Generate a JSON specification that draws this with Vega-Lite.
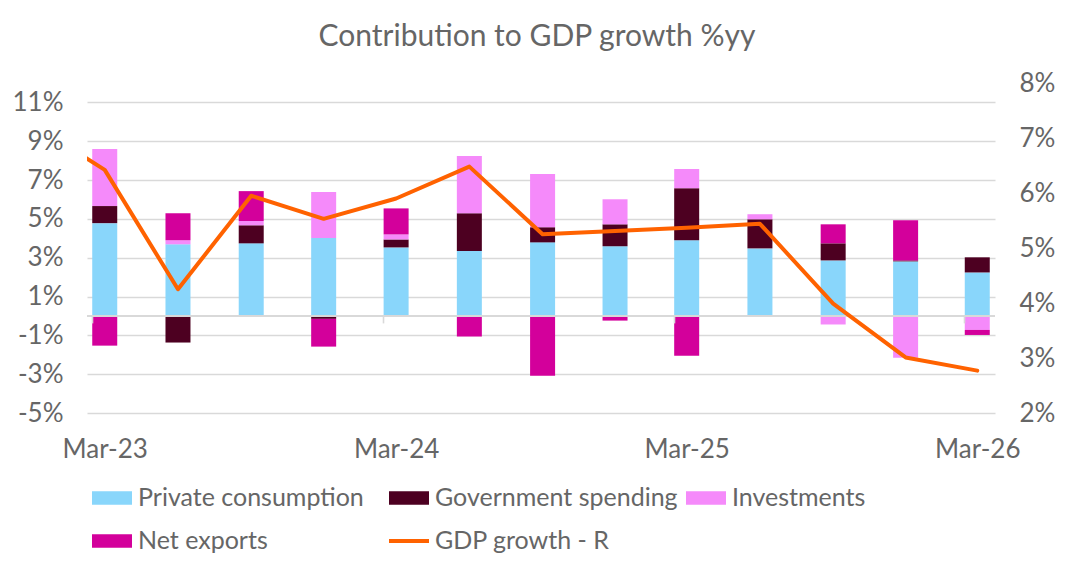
{
  "$schema": "https://vega.github.io/schema/vega-lite/v6.json",
  "width": 908,
  "height": 330,
  "autosize": {"type": "none"},
  "padding": {"left": 87, "top": 83, "right": 73, "bottom": 159},
  "background": "white",
  "title": {"text": "Contribution to GDP growth %yy", "font": "Lato", "fontSize": 30, "fontWeight": "normal", "color": "#666666", "anchor": "middle", "dx": -4, "offset": 18},
  "config": {"view": {"stroke": null}, "font": "Lato"},
  "datasets": {
    "stackorder": [
      {"series": "Private consumption", "rank": 1},
      {"series": "Government spending", "rank": 2},
      {"series": "Investments", "rank": 3},
      {"series": "Net exports", "rank": 4}
    ],
    "contrib": [
      {"date": "2023-03-01", "series": "Private consumption", "value": 4.78},
      {"date": "2023-03-01", "series": "Government spending", "value": 0.88},
      {"date": "2023-03-01", "series": "Investments", "value": 2.94},
      {"date": "2023-03-01", "series": "Net exports", "value": -1.53},
      {"date": "2023-06-01", "series": "Private consumption", "value": 3.69},
      {"date": "2023-06-01", "series": "Government spending", "value": -1.37},
      {"date": "2023-06-01", "series": "Investments", "value": 0.21},
      {"date": "2023-06-01", "series": "Net exports", "value": 1.39},
      {"date": "2023-09-01", "series": "Private consumption", "value": 3.74},
      {"date": "2023-09-01", "series": "Government spending", "value": 0.93},
      {"date": "2023-09-01", "series": "Investments", "value": 0.22},
      {"date": "2023-09-01", "series": "Net exports", "value": 1.54},
      {"date": "2023-12-01", "series": "Private consumption", "value": 4.02},
      {"date": "2023-12-01", "series": "Government spending", "value": -0.15},
      {"date": "2023-12-01", "series": "Investments", "value": 2.36},
      {"date": "2023-12-01", "series": "Net exports", "value": -1.43},
      {"date": "2024-03-01", "series": "Private consumption", "value": 3.53},
      {"date": "2024-03-01", "series": "Government spending", "value": 0.41},
      {"date": "2024-03-01", "series": "Investments", "value": 0.26},
      {"date": "2024-03-01", "series": "Net exports", "value": 1.34},
      {"date": "2024-06-01", "series": "Private consumption", "value": 3.35},
      {"date": "2024-06-01", "series": "Government spending", "value": 1.94},
      {"date": "2024-06-01", "series": "Investments", "value": 2.95},
      {"date": "2024-06-01", "series": "Net exports", "value": -1.06},
      {"date": "2024-09-01", "series": "Private consumption", "value": 3.79},
      {"date": "2024-09-01", "series": "Government spending", "value": 0.78},
      {"date": "2024-09-01", "series": "Investments", "value": 2.74},
      {"date": "2024-09-01", "series": "Net exports", "value": -3.08},
      {"date": "2024-12-01", "series": "Private consumption", "value": 3.59},
      {"date": "2024-12-01", "series": "Government spending", "value": 1.13},
      {"date": "2024-12-01", "series": "Investments", "value": 1.29},
      {"date": "2024-12-01", "series": "Net exports", "value": -0.24},
      {"date": "2025-03-01", "series": "Private consumption", "value": 3.9},
      {"date": "2025-03-01", "series": "Government spending", "value": 2.68},
      {"date": "2025-03-01", "series": "Investments", "value": 0.99},
      {"date": "2025-03-01", "series": "Net exports", "value": -2.05},
      {"date": "2025-06-01", "series": "Private consumption", "value": 3.48},
      {"date": "2025-06-01", "series": "Government spending", "value": 1.5},
      {"date": "2025-06-01", "series": "Investments", "value": 0.26},
      {"date": "2025-06-01", "series": "Net exports", "value": 0.0},
      {"date": "2025-09-01", "series": "Private consumption", "value": 2.86},
      {"date": "2025-09-01", "series": "Government spending", "value": 0.88},
      {"date": "2025-09-01", "series": "Investments", "value": -0.44},
      {"date": "2025-09-01", "series": "Net exports", "value": 0.98},
      {"date": "2025-12-01", "series": "Private consumption", "value": 2.81},
      {"date": "2025-12-01", "series": "Government spending", "value": 0.05},
      {"date": "2025-12-01", "series": "Investments", "value": -2.15},
      {"date": "2025-12-01", "series": "Net exports", "value": 2.07},
      {"date": "2026-03-01", "series": "Private consumption", "value": 2.24},
      {"date": "2026-03-01", "series": "Government spending", "value": 0.78},
      {"date": "2026-03-01", "series": "Investments", "value": -0.72},
      {"date": "2026-03-01", "series": "Net exports", "value": -0.26}
    ],
    "gdp": [
      {"date": "2022-12-01", "series": "GDP growth - R", "value": 7.24},
      {"date": "2023-03-01", "series": "GDP growth - R", "value": 6.42},
      {"date": "2023-06-01", "series": "GDP growth - R", "value": 4.25},
      {"date": "2023-09-01", "series": "GDP growth - R", "value": 5.95},
      {"date": "2023-12-01", "series": "GDP growth - R", "value": 5.53},
      {"date": "2024-03-01", "series": "GDP growth - R", "value": 5.9},
      {"date": "2024-06-01", "series": "GDP growth - R", "value": 6.48},
      {"date": "2024-09-01", "series": "GDP growth - R", "value": 5.25},
      {"date": "2024-12-01", "series": "GDP growth - R", "value": 5.31},
      {"date": "2025-03-01", "series": "GDP growth - R", "value": 5.37},
      {"date": "2025-06-01", "series": "GDP growth - R", "value": 5.44},
      {"date": "2025-09-01", "series": "GDP growth - R", "value": 3.99},
      {"date": "2025-12-01", "series": "GDP growth - R", "value": 3.01},
      {"date": "2026-03-01", "series": "GDP growth - R", "value": 2.77}
    ]
  },
  "layer": [
    {
      "data": {"name": "contrib"},
      "transform": [
        {"lookup": "series", "from": {"data": {"name": "stackorder"}, "key": "series", "fields": ["rank"]}}
      ],
      "layer": [
        {
          "mark": {"type": "bar", "width": 25},
          "encoding": {
            "x": {
              "field": "date", "type": "temporal",
              "scale": {"type": "utc", "domain": [{"year": 2023, "month": 2, "date": 13, "utc": true}, {"year": 2026, "month": 3, "date": 17, "utc": true}]},
              "axis": {
                "values": [{"year": 2023, "month": 3, "date": 1, "utc": true}, {"year": 2024, "month": 3, "date": 1, "utc": true}, {"year": 2025, "month": 3, "date": 1, "utc": true}, {"year": 2026, "month": 3, "date": 1, "utc": true}],
                "format": "%b-%y", "title": null, "grid": false, "domain": false, "ticks": false,
                "labelFlush": false, "labelPadding": 44, "labelBaseline": "alphabetic",
                "labelFontSize": 26, "labelColor": "#666666", "labelFont": "Lato"
              }
            },
            "y": {
              "field": "value", "type": "quantitative", "stack": "zero",
              "scale": {"domain": [-5, 12], "nice": false, "zero": false},
              "axis": {
                "values": [-5, -3, -1, 1, 3, 5, 7, 9, 11], "labelExpr": "datum.value + '%'",
                "title": null, "grid": true, "gridColor": "#d9d9d9", "gridWidth": 1.6,
                "domain": false, "ticks": false, "labelPadding": 24,
                "labelFontSize": 26, "labelColor": "#666666", "labelFont": "Lato"
              }
            },
            "order": {"field": "rank", "type": "quantitative", "sort": "ascending"},
            "color": {
              "field": "series", "type": "nominal",
              "scale": {
                "domain": ["Private consumption", "Government spending", "Investments", "Net exports", "GDP growth - R"],
                "range": ["#89D6FB", "#4D0021", "#F58AFA", "#D3009B", "#FF6200"]
              },
              "legend": {
                "title": null, "orient": "none", "legendX": 5, "legendY": 395,
                "direction": "horizontal", "columns": 3, "gridAlign": "all",
                "columnPadding": 8, "rowPadding": 10, "padding": 0,
                "labelFontSize": 25, "labelColor": "#666666", "labelFont": "Lato",
                "labelLimit": 400, "labelOffset": 6, "symbolSize": 1600,
                "symbolType": "M-1,-0.333H1V0.333H-1Z",
                "encode": {
                  "symbols": {
                    "update": {
                      "shape": {"signal": "datum.value === 'GDP growth - R' ? 'M-1,-0.1H1V0.1H-1Z' : 'M-1,-0.333H1V0.333H-1Z'"},
                      "fill": {"signal": "scale('color', datum.value)"},
                      "strokeWidth": {"value": 0},
                      "opacity": {"value": 1}
                    }
                  }
                }
              }
            }
          }
        },
        {
          "mark": {"type": "rule", "color": "#d9d9d9", "strokeWidth": 1.6},
          "encoding": {"y": {"datum": 0}}
        }
      ]
    },
    {
      "data": {"name": "gdp"},
      "mark": {"type": "line", "strokeWidth": 4, "clip": true, "strokeJoin": "round", "strokeCap": "round"},
      "encoding": {
        "x": {
          "field": "date", "type": "temporal",
          "axis": {
            "values": [{"year": 2023, "month": 3, "date": 1, "utc": true}, {"year": 2024, "month": 3, "date": 1, "utc": true}, {"year": 2025, "month": 3, "date": 1, "utc": true}, {"year": 2026, "month": 3, "date": 1, "utc": true}],
            "orient": "bottom", "offset": -97.1, "labels": false, "domain": false, "grid": false,
            "ticks": true, "tickSize": 7, "tickColor": "#d9d9d9", "tickWidth": 1.6, "tickOffset": -13,
            "title": null, "zindex": 1
          }
        },
        "y": {
          "field": "value", "type": "quantitative",
          "scale": {"domain": [2, 8], "nice": false, "zero": false},
          "axis": {
            "orient": "right", "values": [2, 3, 4, 5, 6, 7, 8], "labelExpr": "datum.value + '%'",
            "title": null, "grid": false, "domain": false, "ticks": false, "labelPadding": 24,
            "labelFontSize": 26, "labelColor": "#666666", "labelFont": "Lato"
          }
        },
        "color": {"field": "series", "type": "nominal"}
      }
    }
  ],
  "resolve": {"scale": {"y": "independent"}, "axis": {"x": "independent"}}
}
